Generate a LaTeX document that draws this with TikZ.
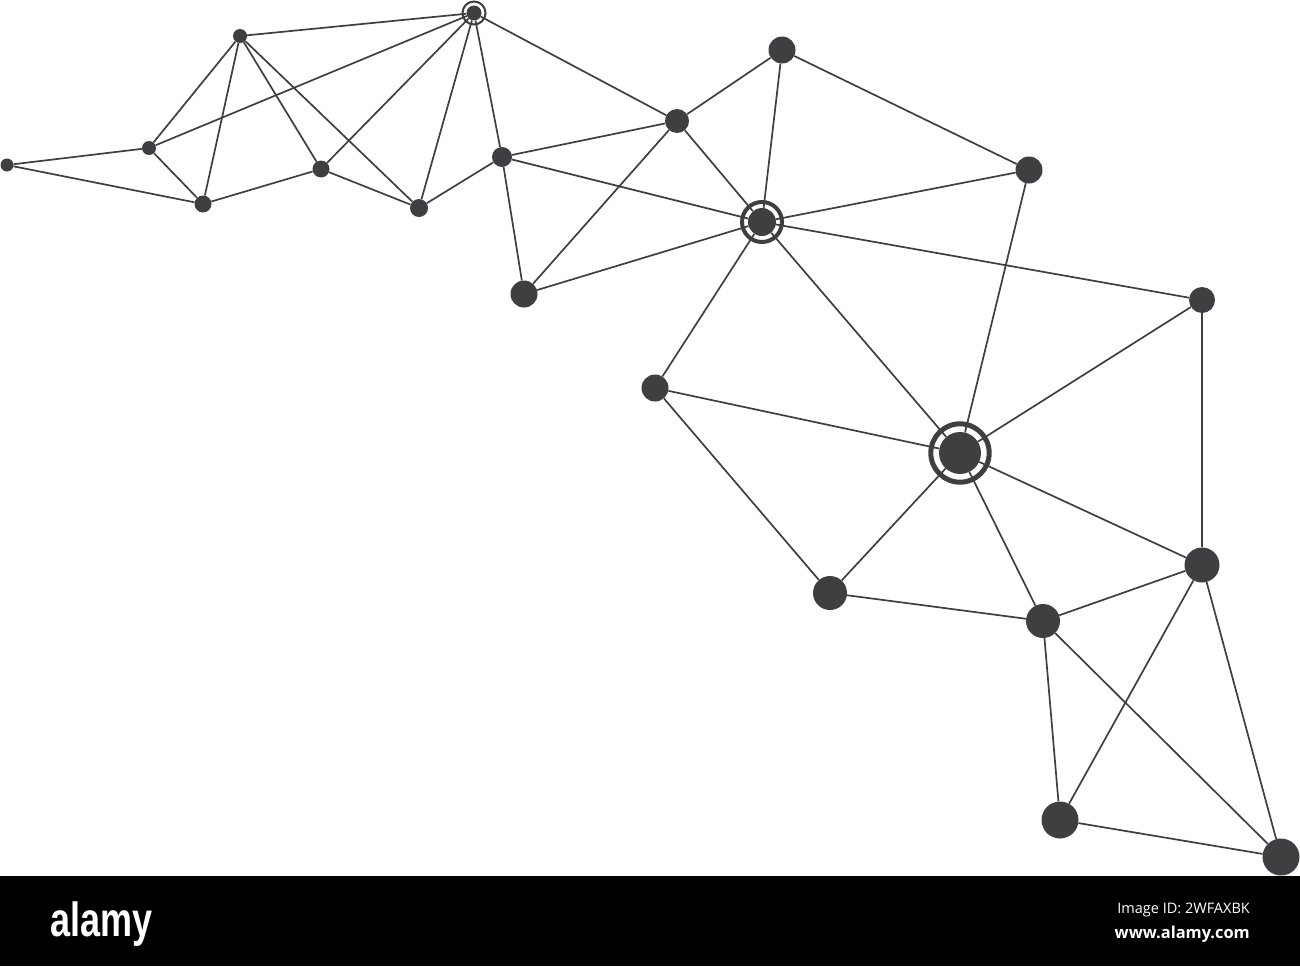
\documentclass[tikz,border=0pt]{standalone}
\usepackage{fontspec}
\usepackage{graphicx}
\newfontfamily\alamyfont{Liberation Sans}
\newfontfamily\idfont{Open Sans}
\definecolor{ink}{HTML}{3F3F41}
\begin{document}
\begin{tikzpicture}[x=1pt,y=-1pt,
  dot/.style={circle,fill=ink,inner sep=0pt,minimum size=#1},
  link/.style={draw=ink,line width=1.7pt},
  ring/.style={circle,draw=ink,inner sep=0pt,minimum size=#1}]
\useasboundingbox (0,0) rectangle (1300,966);
\fill[white] (0,0) rectangle (1300,966);
% nodes
\node[dot=13pt] (a1) at (7,165) {};
\node[dot=14pt] (a2) at (149,148) {};
\node[dot=14pt] (a3) at (240,36) {};
\node[dot=17pt] (a4) at (203,204) {};
\node[dot=17pt] (a5) at (321,169) {};
\node[dot=18pt] (a6) at (419,208) {};
\node[dot=15pt] (a7) at (474,13) {};
\node[dot=20pt] (a8) at (502,157) {};
\node[dot=27pt] (a9) at (524,294) {};
\node[dot=24pt] (a10) at (677,121) {};
\node[dot=27pt] (a11) at (782,50) {};
\node[dot=28pt] (a12) at (762,222) {};
\node[dot=27pt] (a13) at (1029,170) {};
\node[dot=26pt] (a14) at (1202,300) {};
\node[dot=27pt] (a15) at (655,388) {};
\node[dot=42pt] (a16) at (960,453) {};
\node[dot=34pt] (a17) at (830,593) {};
\node[dot=34pt] (a18) at (1043,621) {};
\node[dot=35pt] (a19) at (1202,565) {};
\node[dot=37pt] (a20) at (1060,820) {};
\node[dot=37pt] (a21) at (1281,857) {};
% rings
\node[ring=23pt,line width=2pt] (r7) at (a7) {};
\node[ring=40pt,line width=4pt] (r12) at (a12) {};
\node[ring=58.4pt,line width=5pt] (r16) at (a16) {};
% links
\draw[link] (a1) -- (a2);
\draw[link] (a1) -- (a4);
\draw[link] (a2) -- (a3);
\draw[link] (a2) -- (a4);
\draw[link] (a2) -- (a7);
\draw[link] (a3) -- (a4);
\draw[link] (a3) -- (a7);
\draw[link] (a3) -- (a5);
\draw[link] (a3) -- (a6);
\draw[link] (a4) -- (a5);
\draw[link] (a5) -- (a7);
\draw[link] (a5) -- (a6);
\draw[link] (a6) -- (a7);
\draw[link] (a6) -- (a8);
\draw[link] (a7) -- (a8);
\draw[link] (a7) -- (a10);
\draw[link] (a8) -- (a10);
\draw[link] (a8) -- (a9);
\draw[link] (a8) -- (a12);
\draw[link] (a9) -- (a10);
\draw[link] (a9) -- (a12);
\draw[link] (a10) -- (a11);
\draw[link] (a10) -- (a12);
\draw[link] (a11) -- (a12);
\draw[link] (a11) -- (a13);
\draw[link] (a12) -- (a13);
\draw[link] (a12) -- (a14);
\draw[link] (a12) -- (a15);
\draw[link] (a12) -- (a16);
\draw[link] (a13) -- (a16);
\draw[link] (a14) -- (a16);
\draw[link] (a14) -- (a19);
\draw[link] (a15) -- (a16);
\draw[link] (a15) -- (a17);
\draw[link] (a16) -- (a17);
\draw[link] (a16) -- (a19);
\draw[link] (a16) -- (a18);
\draw[link] (a17) -- (a18);
\draw[link] (a18) -- (a19);
\draw[link] (a18) -- (a20);
\draw[link] (a18) -- (a21);
\draw[link] (a19) -- (a20);
\draw[link] (a19) -- (a21);
\draw[link] (a20) -- (a21);
% watermark band
\fill[black] (0,876) rectangle (1300,966);
\node[anchor=base west,inner sep=0pt,text=white,font=\alamyfont\bfseries\fontsize{48}{48}\selectfont] (logo) at (50,936) {\scalebox{0.75}[1]{alamy}};
\node[anchor=base east,inner sep=0pt,text=white,font=\idfont\fontsize{14.5}{15}\selectfont] (imgid) at (1250,913) {Image ID: 2WFAXBK};
\node[anchor=base east,inner sep=0pt,text=white,font=\idfont\bfseries\fontsize{16.4}{17}\selectfont] (url) at (1250,938) {www.alamy.com};
\end{tikzpicture}
\end{document}
